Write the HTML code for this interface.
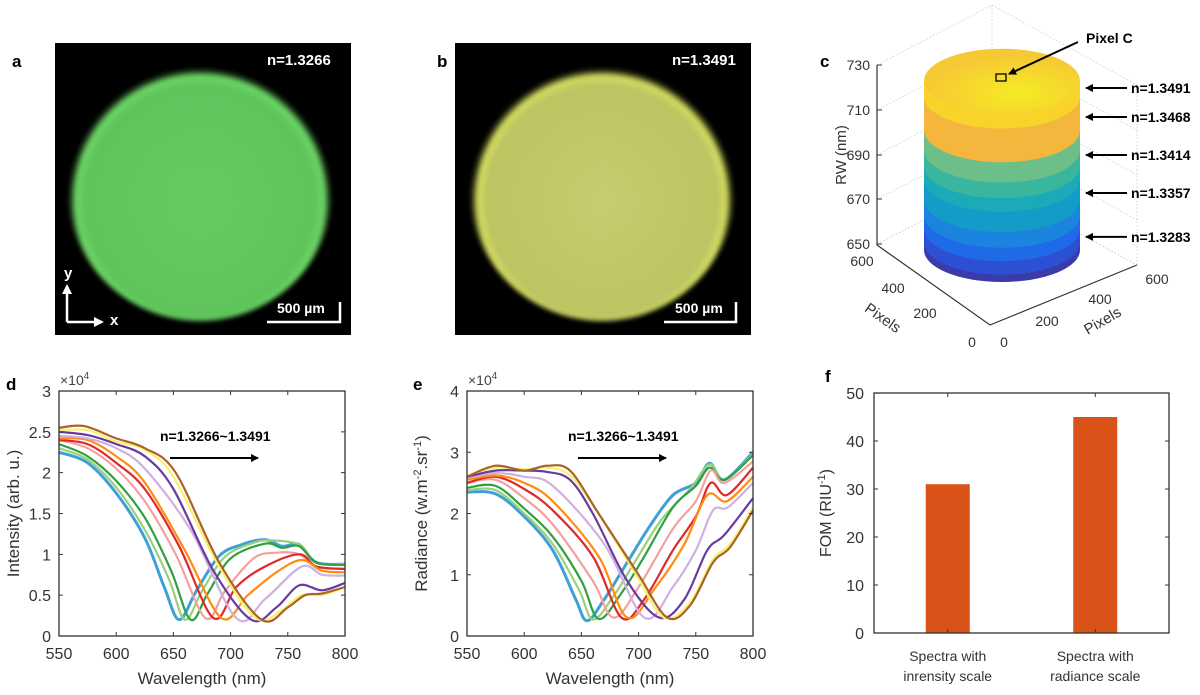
<!DOCTYPE html>
<html><head><meta charset="utf-8">
<style>
body{margin:0;background:#fff;width:1200px;height:690px;overflow:hidden;font-family:"Liberation Sans",sans-serif;}
svg text{font-family:"Liberation Sans",sans-serif;}
</style></head>
<body>
<svg id="fig" width="1200" height="690" viewBox="0 0 1200 690" xmlns="http://www.w3.org/2000/svg">
<defs>
<radialGradient id="gA" cx="50%" cy="55%" r="50%">
<stop offset="0" stop-color="#66cc60"/><stop offset="0.86" stop-color="#5fc45a"/><stop offset="0.93" stop-color="#6ed868"/><stop offset="1" stop-color="#000" stop-opacity="0"/>
</radialGradient>
<radialGradient id="gB" cx="50%" cy="55%" r="50%">
<stop offset="0" stop-color="#c6cc70"/><stop offset="0.86" stop-color="#bcc463"/><stop offset="0.93" stop-color="#d6e060"/><stop offset="1" stop-color="#000" stop-opacity="0"/>
</radialGradient>
<radialGradient id="gTop" cx="60%" cy="70%" r="60%">
<stop offset="0" stop-color="#f5ec24"/><stop offset="1" stop-color="#f6c834"/>
</radialGradient>
<filter id="blur"><feGaussianBlur stdDeviation="2.5"/></filter>
<marker id="ah" markerWidth="8" markerHeight="8" refX="7" refY="4" orient="auto" markerUnits="userSpaceOnUse"><path d="M0,0 L8,4 L0,8 z" fill="#000"/></marker>
<marker id="ahw" markerWidth="10" markerHeight="10" refX="8" refY="5" orient="auto" markerUnits="userSpaceOnUse"><path d="M0,0 L10,5 L0,10 z" fill="#fff"/></marker>
</defs>

<g>
<text x="12" y="67" font-size="17" font-weight="bold">a</text>
<rect x="55" y="43" width="296" height="292" fill="#000"/>
<circle cx="200" cy="187" r="134" fill="url(#gA)" filter="url(#blur)"/>
<text x="267" y="65" font-size="15" font-weight="bold" fill="#fff">n=1.3266</text>
<text x="277" y="313" font-size="14" font-weight="bold" fill="#fff">500 µm</text>
<path d="M267,322 H340 V302" stroke="#fff" stroke-width="2.5" fill="none"/>
<path d="M67,322 V286" stroke="#fff" stroke-width="2.5" marker-end="url(#ahw)"/>
<path d="M67,322 H102" stroke="#fff" stroke-width="2.5" marker-end="url(#ahw)"/>
<text x="64" y="278" font-size="15" font-weight="bold" fill="#fff">y</text>
<text x="110" y="325" font-size="15" font-weight="bold" fill="#fff">x</text>
</g>

<g>
<text x="437" y="67" font-size="17" font-weight="bold">b</text>
<rect x="455" y="43" width="296" height="292" fill="#000"/>
<circle cx="602" cy="187" r="134" fill="url(#gB)" filter="url(#blur)"/>
<text x="672" y="65" font-size="15" font-weight="bold" fill="#fff">n=1.3491</text>
<text x="675" y="313" font-size="14" font-weight="bold" fill="#fff">500 µm</text>
<path d="M664,322 H736 V302" stroke="#fff" stroke-width="2.5" fill="none"/>
</g>

<g id="pc">
<text x="820" y="67" font-size="17" font-weight="bold">c</text>
<g stroke="#ccc" stroke-width="0.8" stroke-dasharray="1.5,2" fill="none">
<path d="M877,65 L992,5 M877,110 L992,50 M877,155 L992,95 M877,199 L992,140 M877,244 L992,185"/>
<path d="M992,5 L1137,85 M992,50 L1137,130 M992,95 L1137,175 M992,140 L1137,220 M992,185 L1137,265"/>
<path d="M992,5 V185 M1137,85 V265 M877,244 L992,185 L1137,265"/>
</g>
<g id="cyl"></g>
<path d="M877,65 V245 M877,245 L990,325 L1137,265" stroke="#333" stroke-width="1.2" fill="none"/>
<g font-size="14" fill="#333" text-anchor="end">
<text x="870" y="70">730</text><text x="870" y="115">710</text><text x="870" y="160">690</text><text x="870" y="204">670</text><text x="870" y="249">650</text>
</g>
<g stroke="#333" stroke-width="1">
<path d="M877,65 h5 M877,110 h5 M877,155 h5 M877,199 h5 M877,244 h5"/>
</g>
<text transform="translate(846,155) rotate(-90)" font-size="15" fill="#333" text-anchor="middle">RW (nm)</text>
<g font-size="14" fill="#333" text-anchor="middle">
<text x="862" y="266">600</text><text x="893" y="293">400</text><text x="925" y="318">200</text><text x="972" y="347">0</text>
<text x="1004" y="347">0</text><text x="1047" y="326">200</text><text x="1100" y="304">400</text><text x="1157" y="284">600</text>
</g>
<text transform="translate(880,322) rotate(35)" font-size="15" fill="#333" text-anchor="middle">Pixels</text>
<text transform="translate(1105,325) rotate(-30)" font-size="15" fill="#333" text-anchor="middle">Pixels</text>
<rect x="996" y="74" width="10" height="7" fill="none" stroke="#000" stroke-width="1.3"/>
<path d="M1078,42 L1009,74" stroke="#000" stroke-width="2" marker-end="url(#ah)"/>
<text x="1086" y="43" font-size="14" font-weight="bold">Pixel C</text>
<g id="idxlab" font-size="14" font-weight="bold"></g>
</g>

<g id="pd">
<text x="6" y="390" font-size="17" font-weight="bold">d</text>
</g>
<g id="pe">
<text x="413" y="390" font-size="17" font-weight="bold">e</text>
</g>
<g id="pf">
<text x="825" y="382" font-size="17" font-weight="bold">f</text>
</g>
</svg>

<script>
// ---------- Data ----------
const seriesColors = ["#3fa0d8","#9ad07a","#2ea040","#f5a0a0","#e02828","#ff8c10","#d0b0e0","#6a3aa0","#f8f070","#a86428"];
const seriesNames = ["n1","n2","n3","n4","n5","n6","n7","n8","n9","n10"];
const dBlue   = [[550,2.25],[575,2.12],[600,1.75],[625,1.2],[642,0.6],[655,0.2],[670,0.55],[690,0.98],[710,1.12],[730,1.18],[745,1.1],[760,1.12],[775,0.9],[800,0.88]];
const dLgreen = [[550,2.3],[575,2.16],[600,1.82],[625,1.3],[646,0.7],[660,0.2],[675,0.55],[695,0.97],[720,1.14],[735,1.17],[760,1.12],[775,0.9],[800,0.88]];
const dGreen  = [[550,2.35],[575,2.2],[600,1.9],[625,1.45],[648,0.8],[665,0.2],[680,0.52],[700,0.95],[730,1.13],[745,1.08],[760,1.1],[775,0.9],[800,0.87]];
const dPink   = [[550,2.4],[575,2.3],[600,2.05],[625,1.65],[652,1.0],[678,0.22],[695,0.55],[720,0.95],[740,1.02],[760,1.0],[775,0.85],[800,0.82]];
const dRed    = [[550,2.4],[575,2.35],[600,2.12],[625,1.8],[655,1.1],[685,0.22],[705,0.6],[730,0.85],[760,1.0],[775,0.85],[800,0.82]];
const dOrange = [[550,2.42],[575,2.4],[600,2.2],[625,1.88],[660,1.05],[692,0.22],[715,0.5],[740,0.78],[762,0.93],[780,0.8],[800,0.78]];
const dLav    = [[550,2.45],[575,2.42],[600,2.3],[625,2.05],[665,1.3],[705,0.22],[730,0.45],[762,0.85],[780,0.75],[800,0.74]];
const dPurple = [[550,2.5],[575,2.46],[600,2.35],[625,2.2],[650,1.8],[685,0.8],[718,0.2],[740,0.35],[760,0.62],[780,0.56],[800,0.65]];
const dYellow = [[550,2.52],[575,2.52],[600,2.38],[625,2.28],[650,1.95],[688,0.9],[722,0.22],[745,0.32],[762,0.5],[780,0.5],[800,0.6]];
const dBrown  = [[550,2.55],[572,2.57],[600,2.42],[625,2.3],[652,2.0],[690,0.9],[727,0.2],[750,0.35],[765,0.5],[780,0.52],[800,0.6]];
const dSeries = [dBlue,dLgreen,dGreen,dPink,dRed,dOrange,dLav,dPurple,dYellow,dBrown];
const eBlue   = [[550,2.35],[575,2.32],[600,1.95],[625,1.4],[645,0.6],[655,0.25],[670,0.6],[690,1.2],[710,1.8],[730,2.3],[750,2.5],[762,2.82],[775,2.55],[800,3.0]];
const eLgreen = [[550,2.38],[575,2.38],[600,2.0],[625,1.5],[648,0.75],[660,0.27],[678,0.65],[698,1.25],[720,1.9],[745,2.4],[762,2.8],[775,2.55],[800,2.97]];
const eGreen  = [[550,2.42],[575,2.45],[600,2.08],[625,1.62],[650,0.9],[665,0.28],[685,0.7],[705,1.3],[730,2.1],[750,2.45],[762,2.75],[775,2.55],[800,2.95]];
const ePink   = [[550,2.5],[575,2.55],[600,2.25],[625,1.82],[660,0.9],[678,0.3],[700,0.8],[730,1.75],[750,2.2],[763,2.7],[775,2.5],[800,2.85]];
const eRed    = [[550,2.5],[575,2.6],[600,2.4],[625,2.05],[660,1.3],[685,0.3],[705,0.6],[730,1.4],[750,1.95],[763,2.5],[777,2.3],[800,2.75]];
const eOrange = [[550,2.55],[575,2.62],[600,2.5],[625,2.2],[665,1.3],[690,0.3],[715,0.8],[740,1.5],[760,2.3],[777,2.2],[800,2.6]];
const eLav    = [[550,2.58],[575,2.66],[600,2.6],[625,2.45],[670,1.5],[705,0.3],[730,0.8],[750,1.4],[765,2.05],[778,2.1],[800,2.5]];
const ePurple = [[550,2.6],[575,2.7],[600,2.7],[620,2.68],[640,2.55],[660,2.0],[690,0.9],[718,0.3],[740,0.6],[760,1.4],[775,1.65],[800,2.25]];
const eYellow = [[550,2.62],[575,2.75],[600,2.72],[620,2.75],[640,2.62],[663,2.05],[698,1.0],[722,0.3],[745,0.55],[765,1.25],[780,1.5],[800,2.1]];
const eBrown  = [[550,2.6],[575,2.78],[600,2.7],[620,2.78],[640,2.7],[665,2.0],[700,1.0],[725,0.3],[745,0.5],[765,1.2],[780,1.45],[800,2.05]];
const eSeries = [eBlue,eLgreen,eGreen,ePink,eRed,eOrange,eLav,ePurple,eYellow,eBrown];
const xTicks = [550,600,650,700,750,800];
const dYTicks = [0,0.5,1,1.5,2,2.5,3];
const dYTickLabels = ["0","0.5","1","1.5","2","2.5","3"];
const eYTicks = [0,1,2,3,4];
const fCategories = [["Spectra with","inrensity scale"],["Spectra with","radiance scale"]];
const fValues = [31,45];
const fYTicks = [0,10,20,30,40,50];
const layerRW = [651,657,663,670,679,685,692,701,716,723];
const layerColors = ["#3a3aa8","#2d4fd4","#1f6ae6","#1a84de","#149cc8","#1aaab8","#3ab59e","#6cbf88","#f4b63c","#f8d42a"];
const idxLabels = ["n=1.3491","n=1.3468","n=1.3414","n=1.3357","n=1.3283"];
const idxRW = [719.8,706.9,690,673.1,653.6];

const NS="http://www.w3.org/2000/svg";
function mk(tag,attrs,parent){const e=document.createElementNS(NS,tag);for(const k in attrs)e.setAttribute(k,attrs[k]);parent.appendChild(e);return e;}
function smooth(pts){let d="M"+pts[0][0].toFixed(1)+","+pts[0][1].toFixed(1);
 for(let i=0;i<pts.length-1;i++){const p0=pts[Math.max(0,i-1)],p1=pts[i],p2=pts[i+1],p3=pts[Math.min(pts.length-1,i+2)];
 const c1=[p1[0]+(p2[0]-p0[0])/6,p1[1]+(p2[1]-p0[1])/6],c2=[p2[0]-(p3[0]-p1[0])/6,p2[1]-(p3[1]-p1[1])/6];
 d+=" C"+c1[0].toFixed(1)+","+c1[1].toFixed(1)+" "+c2[0].toFixed(1)+","+c2[1].toFixed(1)+" "+p2[0].toFixed(1)+","+p2[1].toFixed(1);}return d;}

function axesBox(g,x0,y0,x1,y1){
 const r=mk("rect",{x:x0,y:y0,width:x1-x0,height:y1-y0,fill:"none",stroke:"#333","stroke-width":1.3},g);
 
 
}

function spectra(gid,series,yMax,yTicks,yLabels,ylabel,annX){
 const g=document.getElementById(gid);
 const X0=gid==="pd"?59:467, X1=gid==="pd"?345:753, Y0=391, Y1=636;
 const sx=v=>X0+(v-550)/250*(X1-X0), sy=v=>Y1-v/yMax*(Y1-Y0);
 series.forEach((s,i)=>{
  const p=mk("path",{d:smooth(s.map(q=>[sx(q[0]),sy(q[1])])),fill:"none",stroke:seriesColors[i],"stroke-width":i===0?3:2.2,"stroke-linejoin":"round"},g);
  
  
 });
 axesBox(g,X0,Y0,X1,Y1);
 xTicks.forEach(t=>{
  const x=sx(t);
  const l=mk("path",{d:`M${x},${Y1} v-4 M${x},${Y0} v4`,stroke:"#333","stroke-width":1},g);
  
  
  const tx=mk("text",{x:x,y:Y1+23,"font-size":16,fill:"#333","text-anchor":"middle"},g);tx.textContent=t;
  
  
 });
 yTicks.forEach((t,i)=>{
  const y=sy(t);
  const l=mk("path",{d:`M${X0},${y} h4 M${X1},${y} h-4`,stroke:"#333","stroke-width":1},g);
  
  
  const tx=mk("text",{x:X0-8,y:y+6,"font-size":16,fill:"#333","text-anchor":"end"},g);tx.textContent=yLabels[i];
  
  
 });
 const ex=mk("text",{x:X0+1,y:Y0-6,"font-size":14,fill:"#444"},g);ex.innerHTML='×10<tspan dy="-6" font-size="10">4</tspan>';
 
 
 const xl=mk("text",{x:(X0+X1)/2,y:Y1+48,"font-size":17,fill:"#333","text-anchor":"middle"},g);xl.textContent="Wavelength (nm)";
 
 
 const yl=mk("text",{transform:`translate(${X0-40},${(Y0+Y1)/2}) rotate(-90)`,"font-size":17,fill:"#333","text-anchor":"middle"},g);yl.innerHTML=ylabel;
 
 
 const an=mk("text",{x:annX,y:441,"font-size":14,"font-weight":"bold"},g);an.textContent="n=1.3266~1.3491";
 
 
 const ar=mk("path",{d:`M${annX+10},458 H${annX+98}`,stroke:"#000","stroke-width":2,"marker-end":"url(#ah)"},g);
 
 
}
spectra("pd",dSeries,3,dYTicks,dYTickLabels,"Intensity (arb. u.)",160);
spectra("pe",eSeries,4,eYTicks,eYTicks.map(String),'Radiance (w.m<tspan dy="-6" font-size="11">-2</tspan><tspan dy="6">.sr</tspan><tspan dy="-6" font-size="11">-1</tspan><tspan dy="6">)</tspan>',568);

(function(){
 const g=document.getElementById("pf");
 const X0=874,X1=1169,Y0=393,Y1=633,yMax=50;
 const sy=v=>Y1-v/yMax*(Y1-Y0);
 const cx=i=>X0+(X1-X0)*(0.25+0.5*i);
 fValues.forEach((v,i)=>{
  const b=mk("rect",{x:cx(i)-22,y:sy(v),width:44,height:Y1-sy(v),fill:"#d95319"},g);
  
  
  fCategories[i].forEach((line,j)=>{
   const t=mk("text",{x:cx(i),y:Y1+28+j*20,"font-size":14,fill:"#333","text-anchor":"middle"},g);t.textContent=line;
   
   
  });
  const tk=mk("path",{d:`M${cx(i)},${Y1} v-4 M${cx(i)},${Y0} v4`,stroke:"#333"},g);
  
  
 });
 axesBox(g,X0,Y0,X1,Y1);
 fYTicks.forEach(t=>{
  const y=sy(t);
  const l=mk("path",{d:`M${X0},${y} h4 M${X1},${y} h-4`,stroke:"#333"},g);
  
  
  const tx=mk("text",{x:X0-10,y:y+6,"font-size":16,fill:"#333","text-anchor":"end"},g);tx.textContent=t;
  
  
 });
 const yl=mk("text",{transform:`translate(${X0-43},${(Y0+Y1)/2}) rotate(-90)`,"font-size":16,fill:"#333","text-anchor":"middle"},g);
 yl.innerHTML='FOM (RIU<tspan dy="-6" font-size="11">-1</tspan><tspan dy="6">)</tspan>';
 
 
})();

(function(){
 const g=document.getElementById("cyl");
 const cx=1002,rx=78,ry=32,bottomCy=250;
 const sy=v=>245-(v-650)/80*180;
 layerRW.forEach((rw,i)=>{
  const top=sy(rw);
  const bot=i===0?bottomCy:sy(layerRW[i-1]);
  const d=`M${cx-rx},${top} V${bot} A${rx},${ry} 0 0 0 ${cx+rx},${bot} V${top} Z`;
  const p=mk("path",{d:d,fill:layerColors[i]},g);
  
  
  const e=mk("ellipse",{cx:cx,cy:top,rx:rx,ry:ry,fill:i===layerRW.length-1?"url(#gTop)":layerColors[i]},g);
  
  
 });
 const lab=document.getElementById("idxlab");
 idxLabels.forEach((s,i)=>{
  const y=sy(idxRW[i]);
  const t=mk("text",{x:1131,y:y+5},lab);t.textContent=s;
  
  
  const a=mk("path",{d:`M1127,${y} H1086`,stroke:"#000","stroke-width":2,"marker-end":"url(#ah)"},lab);
  
  
 });
})();
</script>
</body></html>
